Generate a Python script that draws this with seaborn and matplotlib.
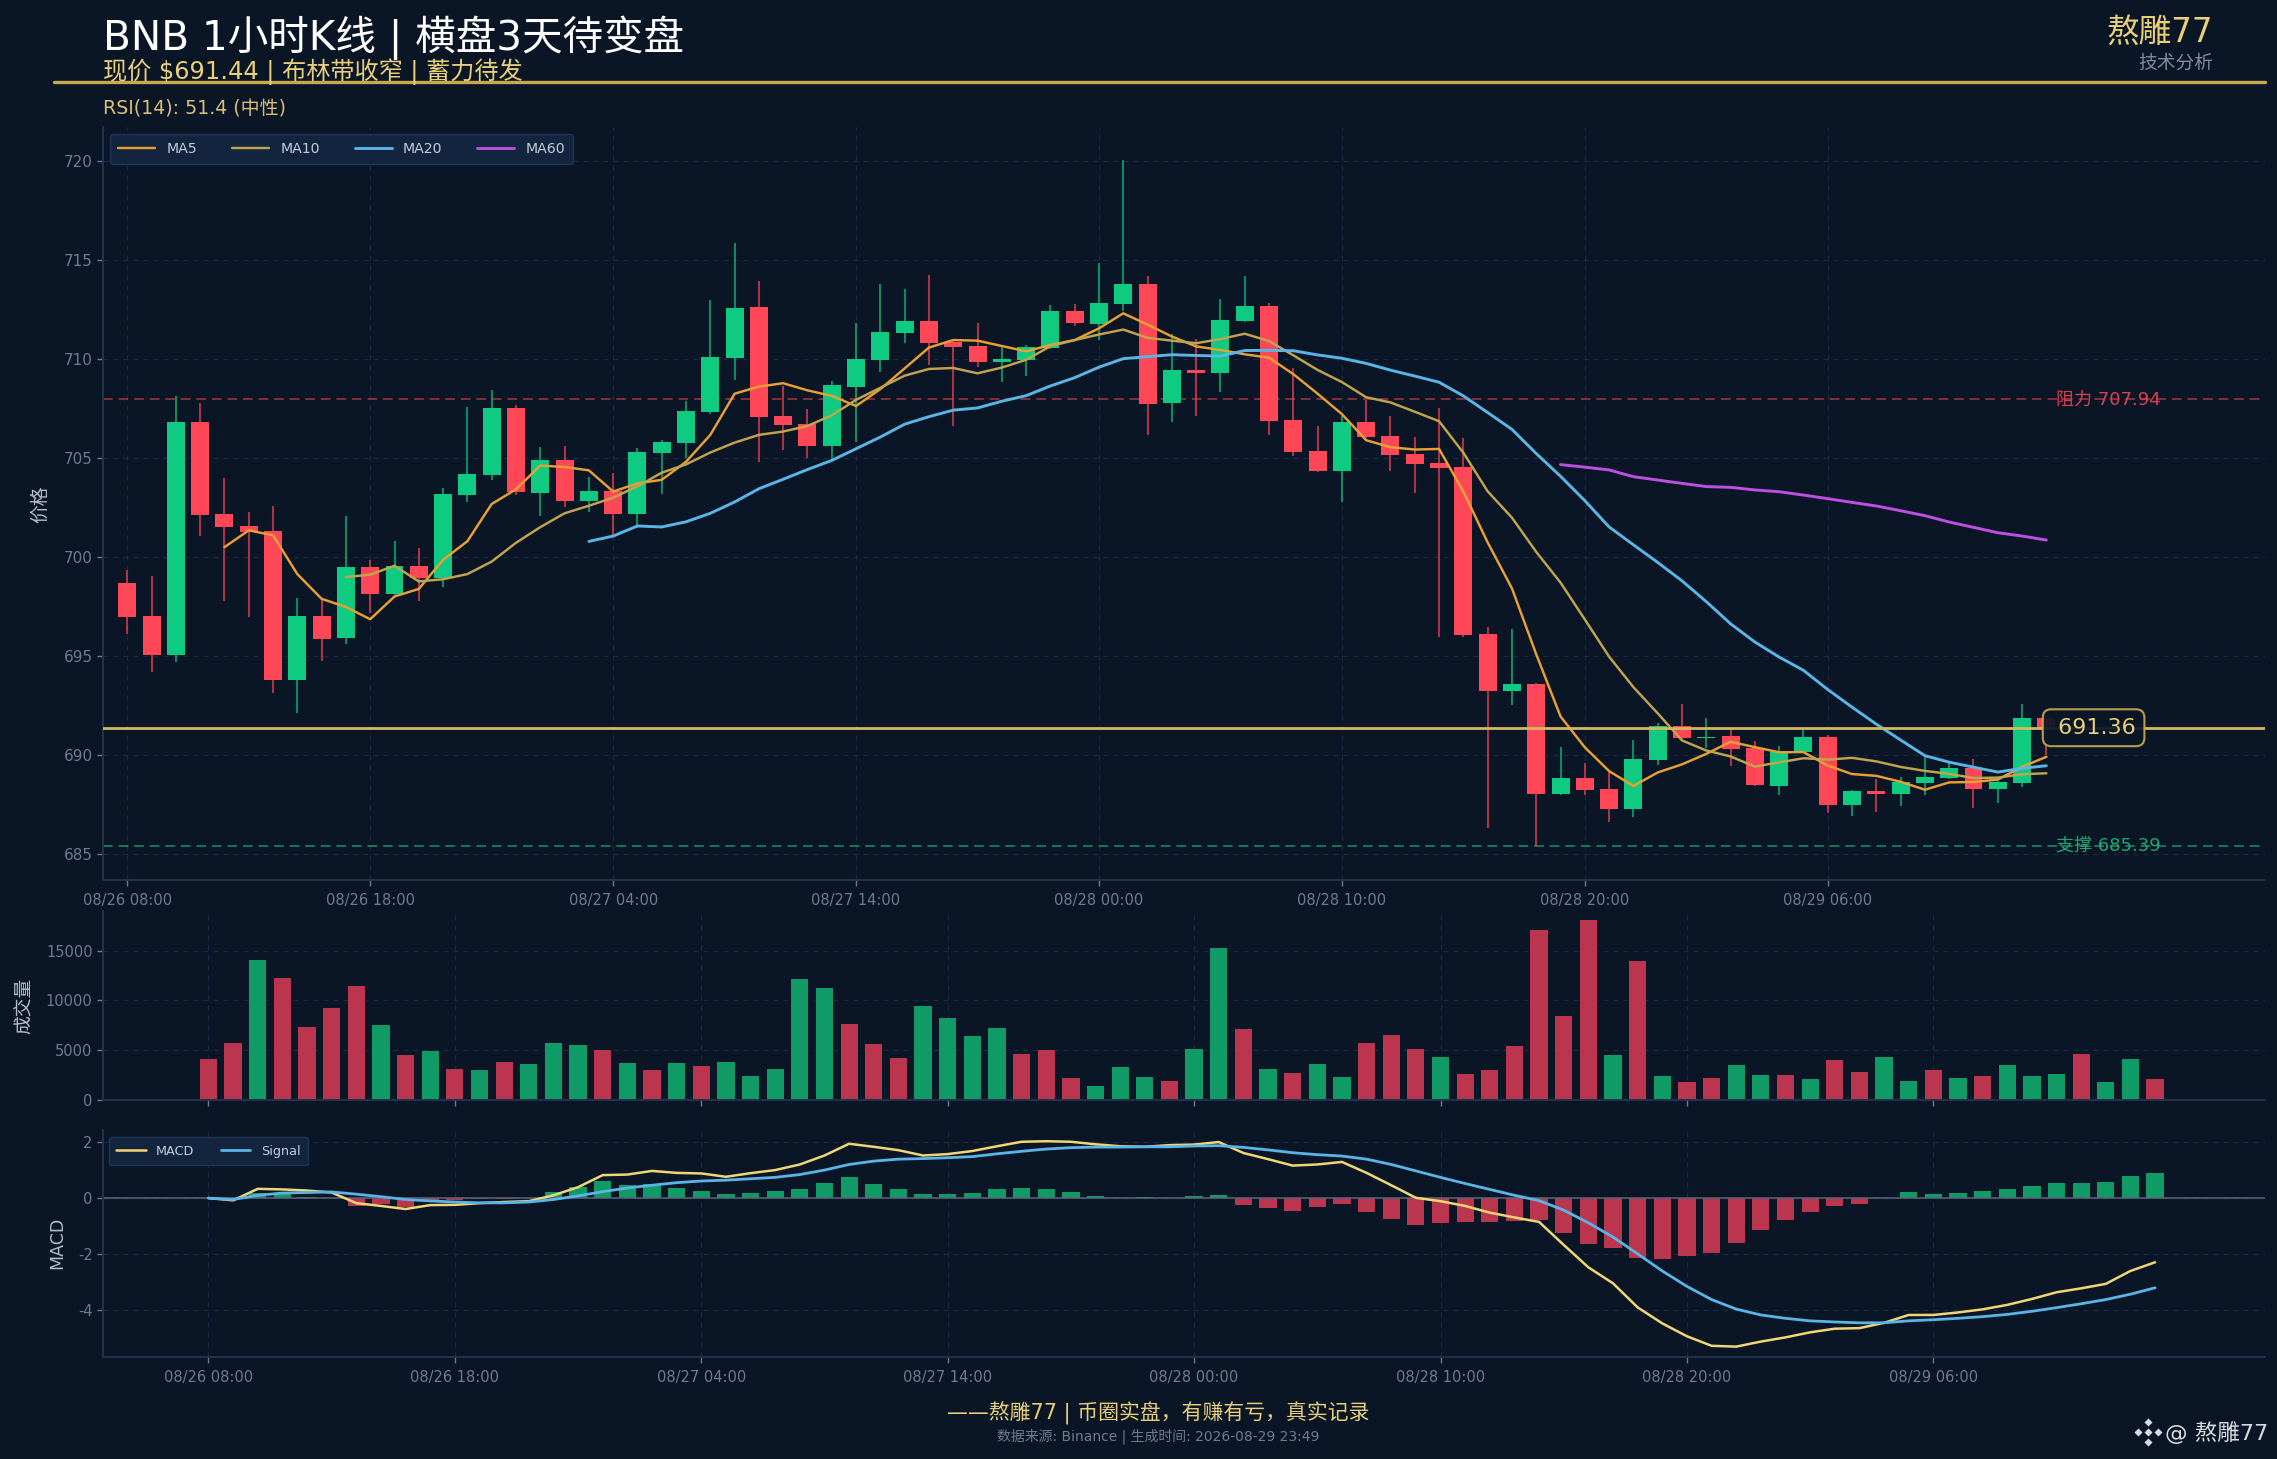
import numpy as np
import pandas as pd
import matplotlib
matplotlib.use('Agg')
import matplotlib.pyplot as plt
from matplotlib.lines import Line2D
import seaborn as sns

# OHLC, una vela por hora
opens = [698.65, 697.0, 695.03, 706.8, 702.15, 701.55, 701.3, 693.77, 697.0, 695.89,
         699.48, 698.11, 699.53, 698.9, 703.11, 704.12, 707.51, 703.22, 704.88, 702.81,
         703.33, 702.17, 705.25, 705.76, 707.32, 710.05, 712.63, 707.12, 706.72, 705.6,
         708.59, 709.95, 711.31, 711.92, 710.86, 710.66, 709.85, 709.95, 710.56, 712.42,
         711.77, 712.78, 713.79, 707.78, 709.44, 709.29, 711.92, 712.68, 706.92, 705.35,
         704.34, 706.82, 706.11, 705.2, 704.75, 704.51, 696.09, 693.22, 693.57, 688.01,
         688.82, 688.27, 687.26, 689.73, 691.45, 690.84, 690.94, 690.33, 688.42, 690.13,
         690.89, 687.46, 688.17, 688.02, 688.57, 688.82, 689.33, 688.27, 688.57, 691.85]
closes = [696.95, 695.03, 706.8, 702.1, 701.5, 701.23, 693.77, 697.0, 695.84, 699.48,
          698.11, 699.53, 698.9, 703.16, 704.18, 707.51, 703.27, 704.88, 702.81, 703.32,
          702.17, 705.3, 705.81, 707.37, 710.1, 712.58, 707.07, 706.67, 705.6, 708.69,
          710.0, 711.36, 711.92, 710.81, 710.6, 709.85, 710.0, 710.59, 712.42, 711.82,
          712.83, 713.79, 707.73, 709.44, 709.29, 711.97, 712.68, 706.87, 705.3, 704.34,
          706.82, 706.06, 705.15, 704.7, 704.48, 696.05, 693.22, 693.57, 688.01, 688.82,
          688.21, 687.26, 689.78, 691.45, 690.84, 690.88, 690.28, 688.47, 690.13, 690.89,
          687.46, 688.17, 688.02, 688.62, 688.87, 689.33, 688.27, 688.62, 691.85, 691.36]
highs = [699.33, 699.02, 708.11, 707.74, 703.96, 702.24, 702.56, 697.9, 697.9, 702.05,
         699.83, 700.79, 700.42, 703.45, 707.58, 708.42, 707.66, 705.52, 705.59, 704.04,
         704.23, 705.49, 705.91, 707.88, 712.98, 715.84, 713.9, 708.6, 707.46, 708.89,
         711.8, 713.79, 713.54, 714.24, 710.95, 711.8, 710.62, 710.7, 712.73, 712.78,
         714.83, 720.05, 714.19, 711.26, 710.99, 713.03, 714.19, 712.81, 709.53, 706.62,
         707.09, 707.93, 707.09, 706.04, 707.5, 705.98, 696.43, 696.33, 693.6, 690.4,
         689.6, 689.23, 690.74, 691.58, 692.56, 691.84, 691.33, 690.69, 690.43, 691.3,
         690.99, 688.2, 688.77, 688.89, 689.98, 689.56, 689.78, 688.65, 692.56, 691.9]
lows = [696.09, 694.19, 694.7, 701.06, 697.78, 696.94, 693.13, 692.09, 694.73, 695.59,
        697.14, 698.05, 697.78, 698.48, 702.78, 703.87, 703.11, 702.05, 702.53, 702.27,
        701.11, 701.45, 703.18, 705.0, 707.22, 708.94, 704.8, 705.4, 705.0, 704.9,
        705.77, 709.31, 710.79, 709.68, 706.58, 709.6, 708.84, 709.14, 710.5, 711.63,
        710.96, 712.42, 706.16, 706.82, 707.09, 708.3, 711.85, 706.16, 705.1, 704.26,
        702.78, 706.0, 704.31, 703.22, 695.96, 695.95, 686.28, 692.51, 685.39, 687.98,
        687.96, 686.62, 686.87, 689.48, 690.8, 690.32, 689.43, 688.42, 687.97, 690.1,
        687.04, 686.9, 687.1, 687.41, 687.97, 688.75, 687.31, 687.56, 688.38, 689.98]

# Medias moviles, cada una empieza cuando ya hay ventana completa
ma5 = [700.48, 701.33, 701.08, 699.12, 697.87, 697.46, 696.84, 697.99, 698.37, 699.84,
       700.78, 702.66, 703.4, 704.6, 704.53, 704.36, 703.29, 703.7, 703.88, 704.79,
       706.15, 708.23, 708.59, 708.76, 708.4, 708.12, 707.61, 708.46, 709.51, 710.56,
       710.94, 710.91, 710.64, 710.37, 710.69, 710.94, 711.53, 712.29, 711.72, 711.12,
       710.62, 710.44, 710.22, 710.05, 709.22, 708.23, 707.2, 705.88, 705.53, 705.41,
       705.44, 703.29, 700.72, 698.4, 695.07, 691.93, 690.37, 689.17, 688.42, 689.1,
       689.51, 690.04, 690.65, 690.38, 690.12, 690.13, 689.45, 689.02, 688.93, 688.63,
       688.23, 688.6, 688.62, 688.74, 689.39, 689.89]
ma10 = [698.97, 699.09, 699.54, 698.75, 698.86, 699.12, 699.75, 700.7, 701.49, 702.19,
        702.57, 702.98, 703.55, 704.24, 704.66, 705.26, 705.76, 706.15, 706.32, 706.6,
        707.14, 707.92, 708.53, 709.14, 709.48, 709.53, 709.26, 709.55, 709.94, 710.63,
        710.94, 711.22, 711.47, 711.05, 710.91, 710.78, 710.99, 711.26, 710.89, 710.17,
        709.43, 708.82, 708.05, 707.79, 707.32, 706.84, 705.25, 703.3, 701.97, 700.24,
        698.69, 696.83, 694.95, 693.41, 692.09, 690.72, 690.21, 689.91, 689.4, 689.61,
        689.82, 689.75, 689.84, 689.66, 689.38, 689.18, 689.03, 688.82, 688.84, 689.01,
        689.06]
ma20 = [700.77, 701.04, 701.55, 701.5, 701.76, 702.19, 702.76, 703.43, 703.91, 704.4,
        704.86, 705.45, 706.04, 706.69, 707.07, 707.4, 707.51, 707.85, 708.13, 708.62,
        709.04, 709.57, 710.0, 710.1, 710.2, 710.16, 710.13, 710.41, 710.42, 710.4,
        710.19, 710.02, 709.76, 709.42, 709.12, 708.81, 708.12, 707.28, 706.43, 705.21,
        704.06, 702.83, 701.5, 700.6, 699.71, 698.78, 697.73, 696.61, 695.69, 694.93,
        694.26, 693.29, 692.4, 691.54, 690.74, 689.95, 689.62, 689.37, 689.12, 689.31,
        689.44]
ma60 = [704.65, 704.52, 704.38, 704.04, 703.87, 703.7, 703.54, 703.5, 703.37, 703.28,
        703.11, 702.93, 702.74, 702.56, 702.32, 702.07, 701.75, 701.48, 701.21, 701.04,
        700.84]

volumes = [4117, 5728, 14069, 12244, 7339, 9236, 11456, 7518, 4511, 4905,
           3115, 3007, 3831, 3616, 5728, 5513, 5012, 3723, 3007, 3723,
           3401, 3831, 2399, 3115, 12136, 11241, 7625, 5621, 4224, 9451,
           8234, 6444, 7232, 4618, 5012, 2220, 1396, 3329, 2327, 1897,
           5119, 15250, 7124, 3115, 2721, 3616, 2327, 5728, 6516, 5119,
           4332, 2613, 3043, 5406, 17077, 8449, 18079, 4511, 13962, 2399,
           1790, 2220, 3508, 2506, 2506, 2112, 4010, 2828, 4332, 1897,
           3043, 2220, 2399, 3508, 2399, 2613, 4618, 1790, 4117, 2112]

macd_line = [0.0, -0.08, 0.33, 0.31, 0.27, 0.2, -0.18, -0.28, -0.39, -0.25,
             -0.24, -0.18, -0.14, -0.11, 0.1, 0.39, 0.82, 0.84, 0.97, 0.9,
             0.88, 0.76, 0.89, 1.0, 1.2, 1.52, 1.94, 1.83, 1.71, 1.52,
             1.57, 1.68, 1.85, 2.01, 2.03, 2.01, 1.92, 1.85, 1.83, 1.89,
             1.91, 2.0, 1.61, 1.39, 1.16, 1.2, 1.29, 0.9, 0.46, 0.01,
             -0.11, -0.28, -0.52, -0.69, -0.85, -1.67, -2.47, -3.04, -3.9, -4.47,
             -4.93, -5.27, -5.3, -5.12, -4.97, -4.79, -4.66, -4.64, -4.45, -4.17,
             -4.17, -4.08, -3.97, -3.81, -3.6, -3.36, -3.22, -3.06, -2.6, -2.29]
signal_line = [0.0, -0.05, 0.1, 0.18, 0.2, 0.22, 0.14, 0.05, -0.05, -0.1,
               -0.14, -0.17, -0.17, -0.14, -0.05, 0.08, 0.23, 0.36, 0.46, 0.55,
               0.61, 0.64, 0.69, 0.74, 0.84, 1.0, 1.2, 1.32, 1.39, 1.41,
               1.44, 1.48, 1.58, 1.67, 1.75, 1.8, 1.82, 1.82, 1.83, 1.83,
               1.86, 1.87, 1.81, 1.72, 1.62, 1.55, 1.5, 1.39, 1.2, 0.97,
               0.74, 0.52, 0.31, 0.1, -0.09, -0.43, -0.88, -1.39, -1.99, -2.6,
               -3.15, -3.62, -3.96, -4.17, -4.29, -4.38, -4.42, -4.45, -4.45, -4.38,
               -4.34, -4.29, -4.23, -4.15, -4.04, -3.91, -3.77, -3.62, -3.43, -3.2]
macd_hist = [0.0, 0.0, 0.18, 0.15, 0.05, 0.02, -0.28, -0.2, -0.3, -0.06,
             -0.06, -0.03, -0.02, 0.0, 0.2, 0.39, 0.62, 0.48, 0.51, 0.37,
             0.25, 0.13, 0.19, 0.27, 0.34, 0.55, 0.75, 0.5, 0.33, 0.13,
             0.13, 0.19, 0.31, 0.37, 0.31, 0.22, 0.09, 0.01, 0.04, 0.0,
             0.09, 0.11, -0.25, -0.36, -0.46, -0.31, -0.22, -0.5, -0.75, -0.97,
             -0.89, -0.85, -0.85, -0.82, -0.79, -1.25, -1.64, -1.78, -2.14, -2.18,
             -2.08, -1.96, -1.61, -1.15, -0.79, -0.5, -0.28, -0.22, 0.0, 0.22,
             0.14, 0.18, 0.27, 0.33, 0.43, 0.54, 0.54, 0.59, 0.79, 0.89]

tick_positions = [0, 10, 20, 30, 40, 50, 60, 70]
tick_labels = ['08/26 08:00', '08/26 18:00', '08/27 04:00', '08/27 14:00',
               '08/28 00:00', '08/28 10:00', '08/28 20:00', '08/29 06:00']

resistance = 707.94
support = 685.39
last_price = 691.36

BG = '#0a1526'
GREEN = '#0ecb81'
RED = '#ff4757'
GOLD = '#e8cf7a'
GOLD_LINE = '#c9a94e'
GRID = '#1b2a42'
SPINE = '#20324f'
TICK = '#6d7c93'
W, H = 2277, 1459

sns.set_theme(style='dark')
plt.rcParams['font.family'] = ['DejaVu Sans', 'Noto Sans CJK SC']
plt.rcParams['axes.unicode_minus'] = False

fig = plt.figure(figsize=(W / 100, H / 100), dpi=100, facecolor=BG)


def make_axes(left, top, right, bottom):
    return fig.add_axes([left / W, 1 - bottom / H, (right - left) / W, (bottom - top) / H])


def style_axes(ax, ysize):
    ax.set_facecolor(BG)
    for side in ['top', 'right']:
        ax.spines[side].set_visible(False)
    for side in ['left', 'bottom']:
        ax.spines[side].set_color(SPINE)
        ax.spines[side].set_linewidth(1.4)
    ax.grid(True, color=GRID, linestyle=(0, (4, 4)), linewidth=0.9)
    ax.set_axisbelow(True)
    ax.set_xticks(tick_positions)
    ax.tick_params(axis='both', bottom=True, left=True, colors=TICK, length=4, width=1)
    ax.tick_params(axis='x', pad=5.5)
    ax.tick_params(axis='y', labelsize=ysize)
    ax.set_xlabel('')
    ax.set_ylabel('')


def fig_text(x, y, s, **kw):
    fig.text(x / W, 1 - y / H, s, **kw)


ax_price = make_axes(103, 127, 2265, 880)
ax_vol = make_axes(103, 911, 2265, 1100)
ax_macd = make_axes(103, 1130, 2265, 1357)

idx = np.arange(len(closes))
is_up = np.array(closes) >= np.array(opens)
candle_colors = np.where(is_up, GREEN, RED)

# Velas
ax_price.vlines(idx, lows, highs, colors=candle_colors, linewidth=1.5, alpha=0.65, zorder=2)
ax_price.bar(idx, np.abs(np.array(closes) - np.array(opens)), bottom=np.minimum(opens, closes),
             width=0.74, color=candle_colors, linewidth=0, zorder=3)

# Medias moviles
for values, name, color, lw in [(ma5, 'MA5', '#e8a035', 1.75), (ma10, 'MA10', '#c2a44e', 1.75),
                                (ma20, 'MA20', '#5ab4e6', 2.1), (ma60, 'MA60', '#bf4fe0', 2.1)]:
    sns.lineplot(x=idx[-len(values):], y=values, color=color, linewidth=lw, label=name,
                 ax=ax_price, zorder=4)

ax_price.axhline(resistance, color=RED, linestyle=(0, (5, 3)), linewidth=1.4, alpha=0.5, zorder=1)
ax_price.axhline(support, color='#1fb57d', linestyle=(0, (5, 3)), linewidth=1.4, alpha=0.6, zorder=1)
ax_price.axhline(last_price, color='#d4b95e', linewidth=2.0, zorder=5)

ax_price.text(79.4, resistance, f'阻力 {resistance}', color='#d8404f', fontsize=13, va='center', zorder=6)
ax_price.text(79.4, support, f'支撑 {support}', color='#1fa672', fontsize=13, va='center', zorder=6)
# el espacio inicial deja la caja descentrada como en el original
ax_price.text(79.2, last_price, f' {last_price}', color=GOLD, fontsize=16, va='center', zorder=7,
              bbox=dict(boxstyle='round,pad=0.38', facecolor=BG, edgecolor='#c9a94e', linewidth=1.5, alpha=0.92))

style_axes(ax_price, 11)
ax_price.set_xlim(-1, 88)
ax_price.set_ylim(683.67, 721.7)
ax_price.set_yticks([685, 690, 695, 700, 705, 710, 715, 720])
ax_price.set_xticks(tick_positions)
ax_price.set_xticklabels(tick_labels, fontsize=10.5, color=TICK)
ax_price.legend(loc='upper left', ncol=4, fontsize=10.2, facecolor='#13243f', edgecolor='#1e3556',
                framealpha=1, labelcolor='#c3ccd9', columnspacing=2.45, handlelength=2.62,
                bbox_to_anchor=(0.002, 0.994), borderaxespad=0.2, borderpad=0.55)

# Volumen
vol_df = pd.DataFrame({'i': idx, 'volume': volumes, 'up': is_up})
sns.barplot(data=vol_df, x='i', y='volume', hue='up', palette={True: '#109a66', False: '#ba354d'},
            native_scale=True, width=0.7, dodge=False, errorbar=None, saturation=1, linewidth=0,
            legend=False, ax=ax_vol)
style_axes(ax_vol, 10.5)
ax_vol.set_xlim(-4.28, 83.46)
ax_vol.set_ylim(0, max(volumes) * 1.05)
ax_vol.set_yticks([0, 5000, 10000, 15000])
ax_vol.set_xticks(tick_positions)
ax_vol.set_xticklabels([])

# MACD
hist_df = pd.DataFrame({'i': idx, 'hist': macd_hist, 'pos': np.array(macd_hist) >= 0})
sns.barplot(data=hist_df, x='i', y='hist', hue='pos', palette={True: '#109a66', False: '#ba354d'},
            native_scale=True, width=0.7, dodge=False, errorbar=None, saturation=1, linewidth=0,
            legend=False, ax=ax_macd)
ax_macd.axhline(0, color='#5a6678', linewidth=1.1, zorder=1)
sns.lineplot(x=idx, y=macd_line, color='#f0d675', linewidth=1.8, label='MACD', ax=ax_macd, zorder=4)
sns.lineplot(x=idx, y=signal_line, color='#5ab4e6', linewidth=2.0, label='Signal', ax=ax_macd, zorder=4)
style_axes(ax_macd, 10.5)
ax_macd.set_xlim(-4.28, 83.46)
ax_macd.set_ylim(-5.67, 2.43)
ax_macd.set_yticks([-4, -2, 0, 2])
ax_macd.set_yticklabels(['-4', '-2', '0', '2'])
ax_macd.set_xticks(tick_positions)
ax_macd.set_xticklabels(tick_labels, fontsize=10.5, color=TICK)
ax_macd.legend(loc='upper left', ncol=2, fontsize=9.2, facecolor='#13243f', edgecolor='#1e3556',
               framealpha=1, labelcolor='#c3ccd9', columnspacing=2.1, handlelength=2.3,
               bbox_to_anchor=(0.002, 0.975), borderaxespad=0.1, borderpad=0.6)

# Etiquetas de eje
ax_price.set_ylabel('价格', color='#b4bdca', fontsize=13.5)
ax_price.yaxis.set_label_coords(50 / W, 1 - 504 / H, transform=fig.transFigure)
ax_vol.set_ylabel('成交量', color='#b4bdca', fontsize=13.5)
ax_vol.yaxis.set_label_coords(34 / W, 1 - 1006 / H, transform=fig.transFigure)
ax_macd.set_ylabel('MACD', color='#b4bdca', fontsize=12.5)
ax_macd.yaxis.set_label_coords(66 / W, 1 - 1243 / H, transform=fig.transFigure)

# Cabecera
fig_text(103, 38, 'BNB 1小时K线 | 横盘3天待变盘', color='white', fontsize=29.2, va='center')
fig_text(103, 72, '现价 $691.44 | 布林带收窄 | 蓄力待发', color=GOLD, fontsize=17.4, va='center')
fig_text(103, 108, 'RSI(14): 51.4 (中性)', color='#d9c078', fontsize=13.7, va='center')
fig_text(2213, 32, '熬雕77', color=GOLD, fontsize=23.5, va='center', ha='right')
fig_text(2213, 63, '技术分析', color='#7f8da3', fontsize=13.5, va='center', ha='right')
fig.add_artist(Line2D([54 / W, 2265 / W], [1 - 82 / H, 1 - 82 / H], color=GOLD_LINE, linewidth=2.4))

# Pie
fig_text(1158, 1413, '——熬雕77 | 币圈实盘，有赚有亏，真实记录', color=GOLD, fontsize=15, va='center', ha='center')
fig_text(1158, 1436, '数据来源: Binance | 生成时间: 2026-08-29 23:49', color=TICK, fontsize=10, va='center', ha='center')
fig_text(2268, 1432, '@ 熬雕77', color='#d8dce2', fontsize=16.2, va='center', ha='right')
for dx, dy in [(0, -10), (0, 10), (-10, 0), (10, 0), (0, 0)]:
    fig.add_artist(Line2D([(2148 + dx) / W], [1 - (1432 + dy) / H], marker='D', markersize=4.2,
                          markerfacecolor='#d8dce2', markeredgecolor='none', linestyle='none'))

fig.savefig('out.png', dpi=100, facecolor=BG)
